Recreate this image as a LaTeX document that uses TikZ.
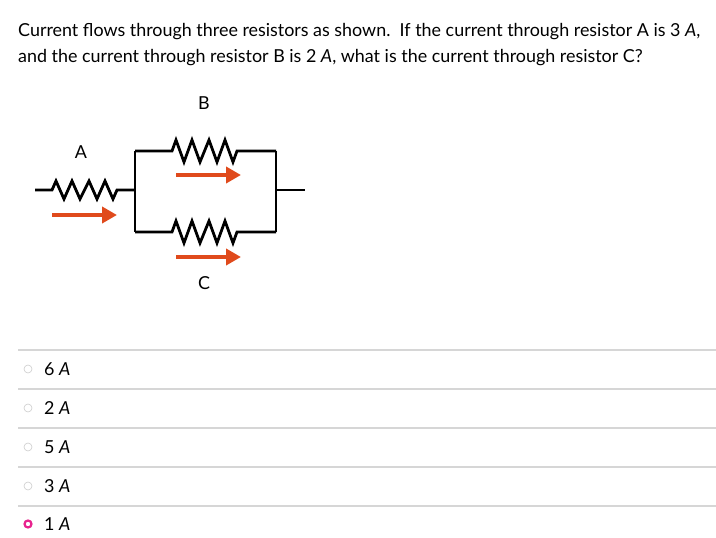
\documentclass[tikz,border=0pt]{standalone}
\usepackage{fontspec}
\setmainfont{Lato}
\usetikzlibrary{arrows.meta}
\definecolor{arr}{HTML}{E04A1C}
\definecolor{sep}{HTML}{D6D6D6}
\definecolor{pinkc}{HTML}{E8238E}
\begin{document}
\begin{tikzpicture}[x=1pt,y=-1pt,
  wire/.style={line width=2.8pt,line join=miter},
  cur/.style={arr,line width=4pt,-{Triangle[length=15pt,width=16pt]}},
  txt/.style={font=\fontsize{17.9}{22}\selectfont,inner sep=0pt},
  opt/.style={txt,anchor=west},
  sepl/.style={sep,line width=1.6pt},
  radio/.style={circle,draw=gray!40,line width=0.6pt,minimum size=8pt,inner sep=0pt}]
\useasboundingbox[fill=white] (0,0) rectangle (716,538);
\node[txt,anchor=base west] (q1) at (18,37) {Current flows through three resistors as shown.\ \ If the current through resistor A is 3 \textit{A},};
\node[txt,anchor=base west] (q2) at (18,63) {and the current through resistor B is 2 \textit{A}, what is the current through resistor C?};
% circuit
\coordinate (L) at (35,190);
\coordinate (R) at (305,190);
\draw[wire] (L) -- (52,190) -- (56,181) -- (64,199) -- (72,181) -- (80,199) -- (89,181) -- (97,199) -- (105,181) -- (113,199) -- (117,190) -- (135,190);
\draw[wire] (135,151) -- (135,232);
\draw[wire] (276,151) -- (276,232);
\draw[wire] (276,190) -- (R);
\draw[wire] (135,151) -- (172,151) -- (176,140) -- (184,162) -- (192,140) -- (200,162) -- (209,140) -- (217,162) -- (225,140) -- (233,162) -- (237,151) -- (276,151);
\draw[wire] (135,232) -- (172,232) -- (176,221) -- (184,243) -- (192,221) -- (200,243) -- (209,221) -- (217,243) -- (225,221) -- (233,243) -- (237,232) -- (276,232);
\draw[cur] (52,215) -- (117,215);
\draw[cur] (176,175) -- (241,175);
\draw[cur] (176,257) -- (241,257);
\node[txt] (la) at (81,152) {A};
\node[txt] (lb) at (204,103) {B};
\node[txt] (lc) at (204,283) {C};
% options
\foreach \y in {350,389,428,467,506} \draw[sepl] (18,\y) -- (716,\y);
\foreach \y/\t/\n in {369/6/o1,408/2/o2,447/5/o3,486/3/o4} {
  \node[radio] (r\n) at (28,\y) {};
  \node[opt] (\n) at (44,\y) {\t\ \textit{A}};
}
\node[circle,draw=pinkc,line width=2.2pt,minimum size=7pt,inner sep=0pt] (r5) at (28,524) {};
\node[opt] (o5) at (44,524) {1 \textit{A}};
\end{tikzpicture}
\end{document}
